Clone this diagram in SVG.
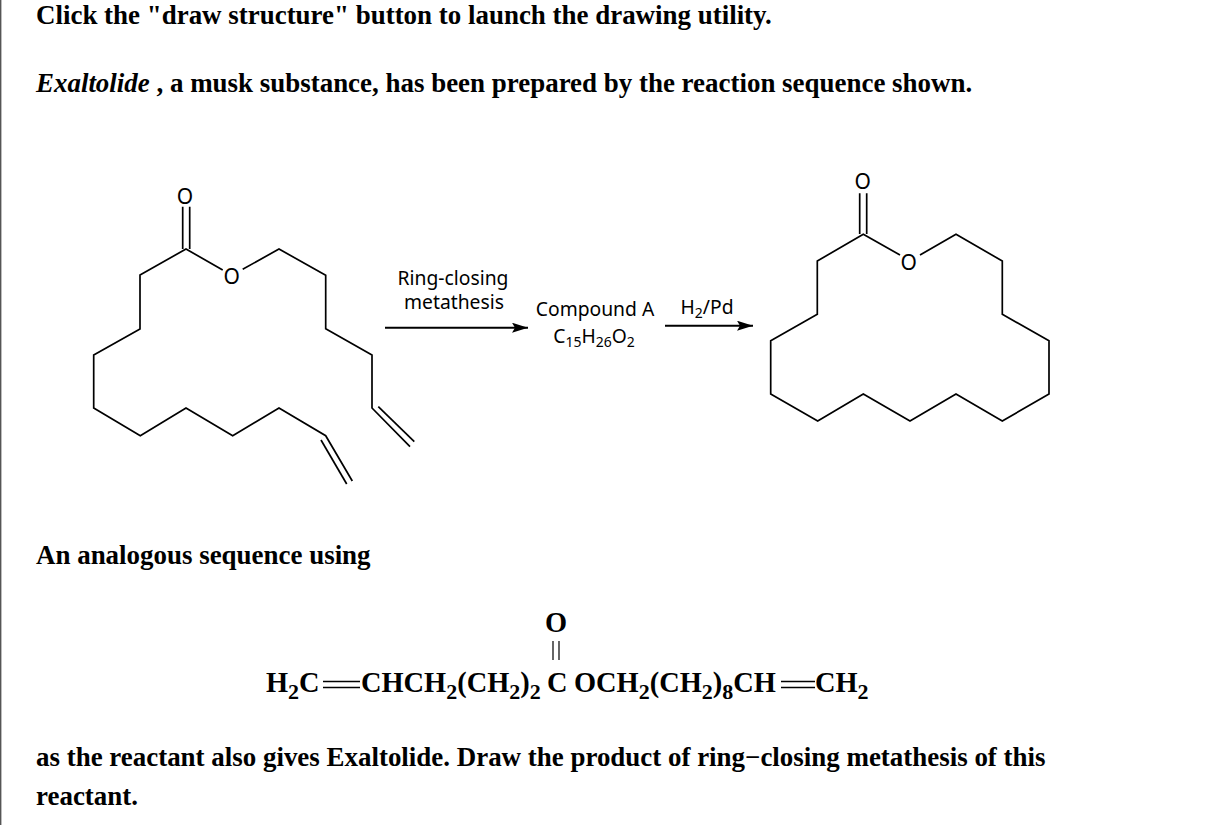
<svg xmlns="http://www.w3.org/2000/svg" width="1207" height="825" viewBox="0 0 1207 825">
<defs>
<marker id="ah" markerUnits="userSpaceOnUse" markerWidth="16" markerHeight="10" refX="16" refY="5" orient="auto"><path d="M0 0L16 5L0 10L3 5Z" fill="#000"/></marker>
</defs>
<style>
.t{font-family:"Liberation Serif",serif;font-weight:700;font-size:26.95px;fill:#000}
.f{font-family:"Liberation Serif",serif;font-weight:700;font-size:28.4px;fill:#000}
.s{font-size:22px}
.c{font-family:"Noto Sans","Open Sans",sans-serif;font-size:19.300px;fill:#000}
.n{font-size:14px}
.a{font-family:"Noto Sans","Open Sans",sans-serif;font-size:21px;fill:#000}
.b{fill:none;stroke:#000;stroke-width:1.7;stroke-linejoin:miter}
.l{fill:none;stroke:#000;stroke-width:2}
</style>
<rect x="0" y="0" width="1.4" height="825" fill="#555"/>
<text class="t" x="36" y="24">Click the "draw structure" button to launch the drawing utility.</text>
<text class="t" x="36" y="92"><tspan font-style="italic">Exaltolide</tspan> , a musk substance, has been prepared by the reaction sequence shown.</text>
<g id="reactant">
<path class="b" d="M222.7 270L186 249L140 275V329L93.7 355V408L140.3 435.7L186 408L232.7 435.7L279 408L325.7 435.7L352.3 481"/>
<path class="b" d="M321 440L346.7 484"/>
<path class="b" d="M242.7 269.3L279 249L325.7 275.3V328.7L372 355V408L410 446.7"/>
<path class="b" d="M378.3 406.7L414.3 441.7"/>
<path class="b" d="M182.7 206.7V249M189.7 206.7V249"/>
<text class="a" x="185" y="204" text-anchor="middle">O</text>
<text class="a" x="231.700" y="284" text-anchor="middle">O</text>
</g>
<g id="product">
<path class="b" d="M900 255L863.3 234.3L817.3 261V314.3L770.700 340.700V394L817.700 421L863.300 394L910 421L956 394L1002.300 421L1049 394V340.700L1002.300 314.300V261L956 234.300L920 255"/>
<path class="b" d="M859.700 193.300V234M866.700 193.300V234"/>
<text class="a" x="862.700" y="189" text-anchor="middle">O</text>
<text class="a" x="908.700" y="269.500" text-anchor="middle">O</text>
</g>
<g id="connectors">
<path class="l" d="M385 327.700H528" marker-end="url(#ah)"/>
<path class="l" d="M665 325.700H753" marker-end="url(#ah)"/>
</g>
<g id="labels">
<text class="c" x="453" y="285" text-anchor="middle">Ring-closing</text>
<text class="c" x="454" y="309" text-anchor="middle">metathesis</text>
<text class="c" x="595" y="316" text-anchor="middle">Compound A</text>
<text class="c" x="594" y="343" text-anchor="middle">C<tspan class="n" dy="4">15</tspan><tspan dy="-4">H</tspan><tspan class="n" dy="4">26</tspan><tspan dy="-4">O</tspan><tspan class="n" dy="4">2</tspan></text>
<text class="c" x="707" y="314" text-anchor="middle">H<tspan class="n" dy="4">2</tspan><tspan dy="-4">/Pd</tspan></text>
</g>
<text class="t" x="36" y="564">An analogous sequence using</text>
<g id="formula">
<text class="f" x="556" y="632" text-anchor="middle">O</text>
<path d="M553 641V660M559 641V660" fill="none" stroke="#000" stroke-width="1.200"/>
<text class="f" x="266" y="692">H<tspan class="s" dy="7">2</tspan><tspan dy="-7">C</tspan></text>
<path d="M323 681.500H360M323 687.500H360M781 681.500H815M781 687.500H815" fill="none" stroke="#000" stroke-width="1.300"/>
<text class="f" x="361" y="692">CHCH<tspan class="s" dy="7">2</tspan><tspan dy="-7">(CH</tspan><tspan class="s" dy="7">2</tspan><tspan dy="-7">)</tspan><tspan class="s" dy="7">2</tspan></text>
<text class="f" x="547" y="692">C</text>
<text class="f" x="574" y="692">OCH<tspan class="s" dy="7">2</tspan><tspan dy="-7">(CH</tspan><tspan class="s" dy="7">2</tspan><tspan dy="-7">)</tspan><tspan class="s" dy="7">8</tspan><tspan dy="-7">CH</tspan></text>
<text class="f" x="815" y="692">CH<tspan class="s" dy="7">2</tspan></text>
</g>
<text class="t" x="36" y="766">as the reactant also gives Exaltolide. Draw the product of ring−closing metathesis of this</text>
<text class="t" x="36" y="805">reactant.</text>
</svg>
